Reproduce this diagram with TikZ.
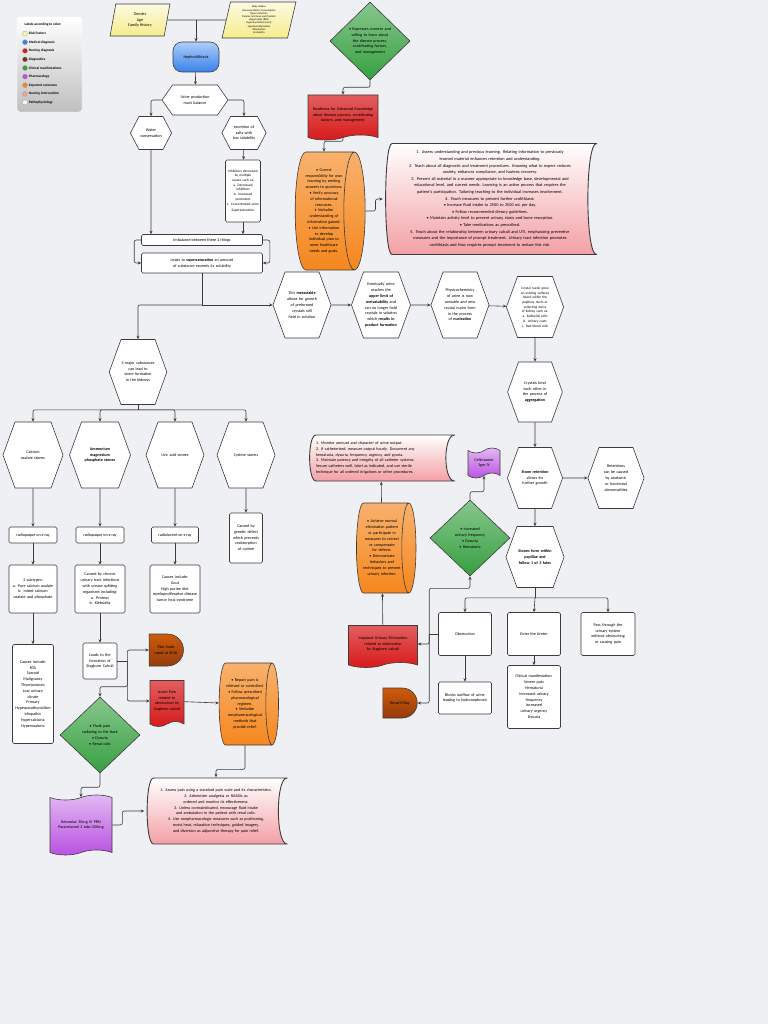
\documentclass[tikz,border=0pt]{standalone}
\usepackage{fontspec}
\setmainfont{Carlito}
\usepackage{xcolor}
\definecolor{bgc}{RGB}{238,240,243}
\definecolor{linegray}{RGB}{60,60,60}
\definecolor{riskyellow}{RGB}{246,236,140}
\definecolor{riskdot}{RGB}{255,247,170}
\definecolor{medblue}{RGB}{55,130,235}
\definecolor{nursered}{RGB}{215,25,25}
\definecolor{diagbrown}{RGB}{185,75,15}
\definecolor{legbrown}{RGB}{120,50,20}
\definecolor{clingreen}{RGB}{55,160,65}
\definecolor{pharmpurple}{RGB}{185,80,225}
\definecolor{outorange}{RGB}{245,135,30}
\definecolor{nursepink}{RGB}{243,160,165}
\usetikzlibrary{arrows.meta,positioning,shapes.geometric,shapes.symbols,shapes.misc,calc}
\newcommand{\nohyph}{\hyphenpenalty=10000\exhyphenpenalty=10000}
\newcommand{\fsmall}{\fontsize{4.1}{5.8}\selectfont\nohyph}
\newcommand{\fless}{\fontsize{3.5}{4.7}\selectfont\nohyph}
\newcommand{\fnote}{\fontsize{4.3}{6.6}\selectfont\nohyph}
\newcommand{\ftiny}{\fontsize{2.6}{3.2}\selectfont\nohyph}

\begin{document}
\begin{tikzpicture}[x=1pt,y=-1pt,
  conn/.style={draw=linegray,line width=0.6pt,rounded corners=2pt,-{Stealth[length=3.5pt,width=3pt]}},
  wire/.style={draw=linegray,line width=0.6pt,rounded corners=2pt},
  pathohex/.style={signal,signal to=west and east,signal pointer angle=140,draw=linegray,fill=white,
    line width=0.6pt,align=center,font=\fsmall,inner sep=0.5pt},
  pathobox/.style={rectangle,rounded corners=1.5pt,draw=linegray,fill=white,line width=0.6pt,
    align=center,font=\fsmall,inner sep=1pt},
  riskbox/.style={trapezium,trapezium left angle=80,trapezium right angle=100,trapezium stretches=true,
    draw=linegray,line width=0.6pt,top color=riskyellow!25,bottom color=riskyellow,align=center,inner sep=1pt},
  medbox/.style={rectangle,rounded corners=9pt,draw=linegray,line width=0.6pt,top color=medblue!40,
    bottom color=medblue,align=center,font=\fsmall},
  nursedoc/.style={tape,tape bend top=none,tape bend height=5pt,draw=linegray,line width=0.6pt,
    top color=nursered!70,bottom color=nursered,align=center,font=\fsmall,inner sep=1pt},
  diagdelay/.style={rounded rectangle,rounded rectangle left arc=none,draw=linegray,line width=0.6pt,
    top color=diagbrown!70!orange,bottom color=diagbrown!80!black,align=center,font=\fsmall},
  cmdiamond/.style={diamond,aspect=1,draw=linegray,line width=0.6pt,top color=clingreen!60,
    bottom color=clingreen,align=center,font=\fsmall,inner sep=0pt},
  pharmtape/.style={tape,tape bend height=5pt,draw=linegray,line width=0.6pt,top color=pharmpurple!40,
    bottom color=pharmpurple,align=center,font=\fsmall,inner sep=1pt},
  outcyl/.style={cylinder,aspect=0.25,draw=linegray,line width=0.6pt,top color=outorange!65,
    bottom color=outorange,align=center,font=\fsmall,inner sep=0.5pt},
  nursestore/.style={rectangle,fill=bgc,align=center,font=\fnote,inner xsep=9pt,inner ysep=2pt,
    path picture={
      \coordinate (ppa) at (path picture bounding box.south west);
      \coordinate (ppb) at (path picture bounding box.north east);
      \shade[top color=white,bottom color=nursepink,draw=linegray,line width=0.9pt]
        ($(ppa|-ppb)+(9pt,-0.5pt)$) -- ($(ppb)+(-0.5pt,-0.5pt)$)
        .. controls ($(ppb)+(-12pt,-0.5pt)$) and ($(ppb|-ppa)+(-12pt,0.5pt)$) .. ($(ppb|-ppa)+(-0.5pt,0.5pt)$)
        -- ($(ppa)+(9pt,0.5pt)$)
        .. controls ($(ppa)+(0.5pt,0.5pt)$) and ($(ppa|-ppb)+(0.5pt,-0.5pt)$) .. cycle;
    }},
  legenddot/.style={circle,draw=linegray!50,line width=0.3pt,minimum size=5pt,inner sep=0pt}
]
\fill[bgc] (0,0) rectangle (768,1024);
\useasboundingbox (0,0) rectangle (768,1024);

% legend
\node[rectangle,rounded corners=3pt,draw=white,top color=white,bottom color=black!25,
  minimum width=65pt,minimum height=95pt] (legend) at (49.5,64.5) {};
\node[anchor=west,font=\fless\bfseries] (legendtitle) at (21,25) {Labels according to color:};
\foreach \col/\lab [count=\i] in {riskdot/Risk Factors,medblue/Medical diagnosis,nursered/Nursing diagnosis,
    legbrown/Diagnostics,clingreen/Clinical manifestations,pharmpurple/Pharmacology,
    outorange/Expected outcomes,nursepink/Nursing intervention,white/Pathophysiology}
  \node[legenddot,fill=\col,label={[font=\fless\bfseries,inner sep=1pt]right:\lab}] (dot\i) at (25,25+8.6*\i) {};

% risk factors and medical diagnosis
\node[riskbox,minimum width=60pt,minimum height=32pt,font=\fsmall] (risk1) at (140,20) {Gender\\Age\\Family History};
\node[riskbox,minimum width=74pt,minimum height=36pt,font=\ftiny] (risk2) at (259,20)
  {Body Habitus\\Decreased Water Consumption\\Recent Infection\\Fistulas, Strictures and Prostatic\\Hypertrophy (BPH)\\Hyperthyroidism (Gout)\\Hyperparathyroidism\\Dehydration\\Immobility};
\node[medbox,minimum width=46pt,minimum height=30pt] (neph) at (196,57) {Nephrolithiasis};
\draw[wire] (risk1) -- (risk2);
\draw[conn] (neph |- risk1) -- (neph);

% pathophysiology: supersaturation
\node[pathohex,signal pointer angle=110,minimum width=66pt,minimum height=30pt,text width=42pt] (urine) at (195,100) {Urine production must balance};
\node[pathohex,signal pointer angle=125,minimum width=32pt,minimum height=33pt,text width=23pt] (water) at (151,133) {Water conservation};
\node[pathohex,signal pointer angle=125,minimum width=35pt,minimum height=33pt,text width=26pt] (salts) at (244,133) {excretion of salts with low solubility};
\node[pathobox,minimum width=35pt,minimum height=62pt,text width=33pt,font=\fless] (inhib) at (243,191)
  {Inhibitors decreased by multiple causes such as:\\a. Decreased inhibitors\\b. Increased promoters\\c. Concentrated urine\\[2pt]Supersaturation};
\node[pathobox,minimum width=121pt,minimum height=11pt] (imbal) at (202,240) {Imbalance between these 2 things};
\node[pathobox,minimum width=121pt,minimum height=20pt,text width=110pt] (super) at (202,263)
  {Leads to \textbf{supersaturation} an amount of substance exceeds its solubility};
\draw[conn] (neph) -- (urine);
\draw[conn] (urine.west) -| (water.north);
\draw[conn] (urine.east) -| (salts.north);
\draw[conn] (salts) -- (inhib);
\draw[conn] (inhib) -- (inhib |- imbal.north);
\draw[conn] (water) -- (water |- imbal.north);
\draw[conn] (imbal.west) -- ++(-7,0) |- (super.west);
\draw[conn] (imbal.east) -- ++(7,0) |- (super.east);

% crystal formation
\node[pathohex,minimum width=48pt,minimum height=66pt,text width=33pt] (meta) at (302,305)
  {This \textbf{metastable} allows for growth of preformed crystals still held in solution};
\node[pathohex,minimum width=48pt,minimum height=66pt,text width=34pt] (upper) at (381,305)
  {Eventually urine reaches the \textbf{upper limit of metastability} and can no longer hold crystals in solution which \textbf{results in product formation}};
\node[pathohex,minimum width=48pt,minimum height=66pt,text width=33pt] (physico) at (460,305)
  {Physicochemistry of urine is now unstable and new crystal nuclei form in the process of \textbf{nucleation}};
\node[pathohex,minimum width=47pt,minimum height=61pt,text width=34pt,font=\fless] (nuclei) at (535,307)
  {Crystal nuclei grow on existing surfaces found within the papillary ducts or collecting ducts of kidney such as:\\a. Epithelial cells\\b. Urinary casts\\c. Red blood cells};
\node[pathohex,minimum width=47pt,minimum height=60pt,text width=32pt] (aggr) at (535,392)
  {Crystals bind each other in the process of \textbf{aggregation}};
\node[pathohex,minimum width=47pt,minimum height=61pt,text width=32pt] (retain) at (535,478)
  {\textbf{Stone retention} allows for further growth};
\node[pathohex,minimum width=48pt,minimum height=61pt,text width=33pt] (anat) at (616,478)
  {Retentions can be caused by anatomic or functional abnormalities};
\node[pathohex,minimum width=47pt,minimum height=61pt,text width=35pt] (fates) at (535,557)
  {\textbf{Stones form within papillae and follow 1 of 3 fates}};
\coordinate (split) at (super.south |- meta.west);
\draw[wire] (super.south) -- (split);
\draw[conn] (split) -- (meta);
\draw[conn] (meta) -- (upper);
\draw[conn] (upper) -- (physico);
\draw[conn] (physico) -- (nuclei);
\draw[conn] (nuclei) -- (aggr);
\draw[conn] (aggr) -- (retain);
\draw[conn] (retain) -- (anat);
\draw[conn] (retain) -- (fates);

% three fates
\node[pathobox,minimum width=53pt,minimum height=43pt] (obstr) at (465,634) {Obstruction};
\node[pathobox,minimum width=53pt,minimum height=43pt] (ureter) at (534,634) {Enter the Ureter};
\node[pathobox,minimum width=54pt,minimum height=43pt,text width=44pt] (pass) at (608,634)
  {Pass through the urinary system without obstructing or causing pain};
\node[pathobox,minimum width=53pt,minimum height=32pt,text width=46pt] (hydro) at (465,698)
  {Blocks outflow of urine leading to hydronephrosis};
\node[pathobox,minimum width=53pt,minimum height=63pt,text width=42pt] (clin) at (534,697)
  {Clinical manifestation:\\Severe pain\\Hematuria\\Increased urinary frequency\\Increased urinary urgency\\Dysuria};
\coordinate (fork) at ($(fates.south)+(0,10)$);
\draw[wire] (fates.south) -- (fork);
\draw[conn] (fork) -| (obstr.north);
\draw[conn] (fork) -- (ureter.north);
\draw[conn] (fork) -| (pass.north);
\draw[conn] (obstr) -- (hydro);
\draw[conn] (ureter) -- (clin);

% obstruction care plan
\node[cmdiamond,minimum width=80pt,minimum height=76pt,text width=40pt] (uti) at (470,538)
  {\textbullet{} Increased urinary frequency\\\textbullet{} Dysuria\\\textbullet{} Hematuria};
\node[pharmtape,minimum width=32pt,minimum height=30pt,text width=28pt] (ceft) at (484,463) {Ceftriaxone 1gm IV};
\node[nursedoc,minimum width=69pt,minimum height=42pt,text width=62pt] (impaired) at (383,644)
  {Impaired Urinary Elimination related to obstruction by Staghorn calculi};
\node[diagdelay,minimum width=41pt,minimum height=30pt] (xray) at (400,703) {Renal X-Ray};
\node[outcyl,minimum height=52pt,minimum width=90pt,text width=38pt] (outelim) at (382,548)
  {\textbullet{} Achieve normal elimination pattern or participate in measures to correct or compensate for defects.\\\textbullet{} Demonstrate behaviors and techniques to prevent urinary infection.};
\node[nursestore,minimum width=147pt,minimum height=47pt,text width=130pt,align=left,font=\fsmall] (elimint) at (381,458)
  {1. Monitor amount and character of urine output.\\
   2. If catheterized, measure output hourly. Document any\\hematuria, dysuria, frequency, urgency, and pyuria.\\
   3. Maintain patency and integrity of all catheter systems.\\Secure catheters well, label as indicated, and use sterile\\technique for all ordered irrigations or other procedures.};
\coordinate (obsleft) at ($(obstr.west)+(-9,0)$);
\draw[wire] (obstr.west) -- (obsleft);
\draw[conn] (obsleft) |- ($(uti.south)+(0,12)$) -- (uti.south);
\draw[conn] (obsleft) |- (impaired.east);
\draw[conn] (obsleft) |- (xray.east);
\draw[conn] (uti.north) -- ++(0,-8) -| (ceft.south);
\draw[conn] (impaired) -- (outelim);
\draw[conn] (outelim) -- (elimint);

% knowledge care plan
\node[cmdiamond,minimum width=80pt,minimum height=78pt,text width=42pt] (learn) at (370,41)
  {\textbullet{} Expresses concern and willing to learn about the disease process, contributing factors, and management};
\node[nursedoc,minimum width=70pt,minimum height=45pt,text width=62pt] (ready) at (343,115)
  {Readiness for Enhanced Knowledge about disease process, contributing factors, and management};
\node[outcyl,minimum height=52pt,minimum width=118pt,text width=38pt] (outlearn) at (324,211)
  {\textbullet{} Correct responsibility for own learning by seeking answers to questions.\\\textbullet{} Verify accuracy of informational resources.\\\textbullet{} Verbalize understanding of information gained.\\\textbullet{} Use information to develop individual plan to meet healthcare needs and goals.};
\node[nursestore,minimum width=214pt,minimum height=112pt,text width=190pt] (teach) at (490,199)
  {1. Assess understanding and previous learning. Relating information to previously\\learned material enhances retention and understanding.\\
   2. Teach about all diagnostic and treatment procedures. Knowing what to expect reduces\\anxiety, enhances compliance, and hastens recovery.\\
   3. Present all material in a manner appropriate to knowledge base, developmental and\\educational level, and current needs. Learning is an active process that requires the\\patient's participation. Tailoring teaching to the individual increases involvement.\\
   4. Teach measures to prevent further urolithiasis:\\
   \textbullet{} Increase fluid intake to 2500 to 3500 mL per day.\\
   \textbullet{} Follow recommended dietary guidelines.\\
   \textbullet{} Maintain activity level to prevent urinary stasis and bone resorption.\\
   \textbullet{} Take medications as prescribed.\\
   5. Teach about the relationship between urinary calculi and UTI, emphasizing preventive\\measures and the importance of prompt treatment. Urinary tract infection promotes\\urolithiasis and thus requires prompt treatment to reduce this risk.};
\draw[conn] (learn.south) -- ++(0,7) -| (ready.north);
\draw[conn] (ready.south) -- ++(0,6) -| (outlearn.north);
\draw[conn] (outlearn.east) -- ++(10,0) |- (teach.west);

% stone types
\node[pathohex,minimum width=46pt,minimum height=65pt,text width=33pt] (major) at (138,372)
  {4 major substances can lead to stone formation in the kidneys};
\node[pathohex,minimum width=50pt,minimum height=66pt,text width=35pt] (caox) at (33,455) {Calcium oxalate stones};
\node[pathohex,minimum width=50pt,minimum height=66pt,text width=36pt] (ammon) at (100,455) {\textbf{Ammonium magnesium phosphate stones}};
\node[pathohex,minimum width=46pt,minimum height=66pt,text width=33pt] (uric) at (175,455) {Uric acid stones};
\node[pathohex,minimum width=48pt,minimum height=66pt,text width=33pt] (cyst) at (246,455) {Cystine stones};
\coordinate (split4) at ($(major.south)+(0,5)$);
\draw[conn] (split) -| (major.north);
\draw[wire] (major.south) -- (split4);
\draw[conn] (split4) -| (caox.north);
\draw[conn] (split4) -| (ammon.north);
\draw[conn] (split4) -| (uric.north);
\draw[conn] (split4) -| (cyst.north);

\node[pathobox,minimum width=48pt,minimum height=16pt] (xr1) at (33,535) {radiopaque on x-ray};
\node[pathobox,minimum width=48pt,minimum height=16pt] (xr2) at (100,535) {radiopaque on x-ray};
\node[pathobox,minimum width=47pt,minimum height=16pt] (xr3) at (175,535) {radiolucent on x-ray};
\node[pathobox,minimum width=33pt,minimum height=50pt,text width=31pt] (cystcause) at (246,538)
  {Caused by genetic defect which prevents reabsorption of cystine};
\node[pathobox,minimum width=48pt,minimum height=48pt,text width=42pt] (caoxsub) at (33,589)
  {2 subtypes:\\a. Pure calcium oxalate\\b. mixed calcium oxalate and phosphate};
\node[pathobox,minimum width=50pt,minimum height=48pt,text width=48pt] (struv) at (100,589)
  {Caused by chronic urinary tract infections with urease splitting organisms including:\\a. Proteus\\b. Klebsiella};
\node[pathobox,minimum width=49pt,minimum height=48pt,text width=48pt] (uriccause) at (175,589)
  {Causes include:\\Gout\\High purine diet\\myeloproliferative disease\\tumor lysis syndrome};
\node[pathobox,minimum width=41pt,minimum height=99pt,text width=39pt] (caoxcause) at (33,694)
  {Causes include:\\RTA\\Sarcoid\\Malignancy\\Thyrotoxicosis\\Low urinary\\citrate\\Primary\\Hyperparathyroidism\\Idiopathic\\hypercalciuria\\Hyperoxaluria};
\node[pathobox,minimum width=34pt,minimum height=36pt,text width=32pt] (staghorn) at (100,661)
  {Leads to the formation of Staghorn Calculi};
\draw[conn] (caox) -- (xr1);
\draw[conn] (ammon) -- (xr2);
\draw[conn] (uric) -- (xr3);
\draw[conn] (cyst) -- (cystcause);
\draw[conn] (xr1) -- (caoxsub);
\draw[conn] (xr2) -- (struv);
\draw[conn] (xr3) -- (uriccause);
\draw[conn] (caoxsub) -- (caoxcause);
\draw[conn] (struv) -- (staghorn);

% pain care plan
\node[diagdelay,minimum width=41pt,minimum height=32pt,text width=30pt] (painscale) at (166,650) {Pain Scale rated at 8/10};
\node[nursedoc,minimum width=34pt,minimum height=46pt,text width=31pt] (acute) at (167,701)
  {Acute Pain related to obstruction by Staghorn calculi};
\node[outcyl,minimum height=54pt,minimum width=82pt,text width=40pt] (outpain) at (245,704)
  {\textbullet{} Report pain is relieved or controlled.\\\textbullet{} Follow prescribed pharmacological regimen.\\\textbullet{} Verbalize nonpharmacological methods that provide relief.};
\node[cmdiamond,minimum width=80pt,minimum height=76pt,text width=40pt] (flank) at (100,735)
  {\textbullet{} Flank pain radiating to the back\\\textbullet{} Dysuria\\\textbullet{} Renal colic};
\node[pharmtape,minimum width=62pt,minimum height=60pt,text width=56pt] (keto) at (81,825)
  {Ketorolac 30mg IV PRN\\Paracetamol 2 tabs 500mg};
\node[nursestore,minimum width=143pt,minimum height=67pt,text width=118pt,font=\fsmall] (painint) at (216,811)
  {1. Assess pain using a standard pain scale and its characteristics.\\
   2. Administer analgesia or NSAIDs as ordered and monitor its effectiveness.\\
   3. Unless contraindicated, encourage fluid intake and ambulation in the patient with renal colic.\\
   4. Use nonpharmacologic measures such as positioning, moist heat, relaxation techniques, guided imagery, and diversion as adjunctive therapy for pain relief.};
\coordinate (stagright) at ($(staghorn.east)+(10,0)$);
\draw[wire] (staghorn.east) -- (stagright);
\draw[conn] (stagright) |- (painscale.west);
\draw[conn] (stagright) |- (acute.west);
\draw[conn] (stagright) |- ($(flank.north)+(0,-10)$) -- (flank.north);
\draw[conn] (acute) -- (outpain);
\draw[conn] (outpain.south) |- ($(painint.north)+(0,-8)$) -- (painint.north);
\draw[conn] (flank.south) |- ($(keto.north)+(0,-10)$) -- (keto.north);
\draw[conn] (keto.east) -- ++(10,0) |- (painint.west);
\end{tikzpicture}
\end{document}
